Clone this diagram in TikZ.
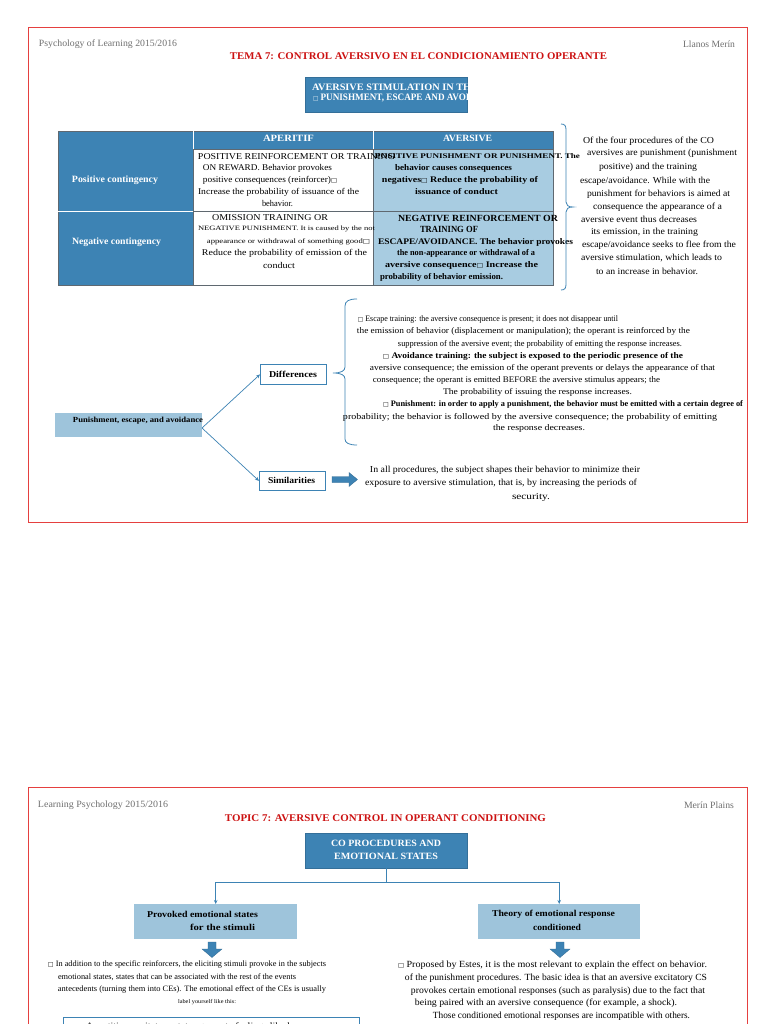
\documentclass[tikz,border=0pt]{standalone}
\usepackage{fontspec}
\usepackage{graphicx}
\setmainfont{Liberation Serif}
\newfontfamily\symf{DejaVu Sans}
\usetikzlibrary{arrows.meta}
\definecolor{stb}{HTML}{3D83B4}
\definecolor{lbl}{HTML}{A8CCE1}
\definecolor{lbx}{HTML}{9EC4DB}
\definecolor{frm}{HTML}{E5403F}
\definecolor{ttlred}{HTML}{CC1111}
\definecolor{hgray}{HTML}{707070}
\definecolor{gridc}{HTML}{5F6870}
\newcommand\bx{{\symf\fontsize{6}{6}\selectfont\char"25A1}}
\newcommand\fsz[1]{\fontsize{#1}{#1}\selectfont}
% line of text stretched horizontally between x1 and x2, centred at height y
\newcommand\Lw[6][]{\node[tx,#1] (#2) at ({(#3+#4)/2},#5) {\resizebox{\dimexpr #4pt-#3pt\relax}{\height}{#6}};}
\begin{document}
\begin{tikzpicture}[x=1pt,y=-1pt,
  tx/.style={inner sep=0pt, font=\fsz{8.8}, anchor=center, text=black},
  bld/.style={font=\fsz{8.6}\bfseries},
  hdr/.style={font=\fsz{9.6}, text=hgray},
  ttl/.style={font=\fsz{10.3}\bfseries, text=ttlred},
  wht/.style={text=white, font=\fsz{9.6}\bfseries},
  conn/.style={draw=stb, line width=0.7pt},
  arr/.style={conn, -{Stealth[length=4pt,width=3.5pt]}},
  brc/.style={draw=stb, line width=0.8pt},
  blk/.style={fill=stb, draw=stb!80!black, line width=0.3pt},
  smallbox/.style={draw=stb, line width=0.8pt, fill=white, inner sep=0pt}
]
\useasboundingbox (0,0) rectangle (768,1024);
\fill[white] (0,0) rectangle (768,1024);

% ---------- page 1 ----------
\draw[frm, line width=1pt] (28,28) rectangle (747,522);
\Lw[hdr]{h1}{39}{177}{44}{Psychology of Learning 2015/2016}
\Lw[hdr]{h2}{683}{735}{44}{Llanos Merín}
\Lw[ttl]{t1}{230}{607}{56}{TEMA 7: CONTROL AVERSIVO EN EL CONDICIONAMIENTO OPERANTE}

\node[fill=stb, draw=stb!85!black, line width=0.4pt, minimum width=162, minimum height=35, anchor=north west, inner sep=0pt] (topbox) at (305,77) {};
\begin{scope}
\clip (topbox.north west) rectangle (topbox.south east);
\Lw[text=white, font=\fsz{9.8}\bfseries]{tb1}{312}{478}{87}{AVERSIVE STIMULATION IN THE}
\Lw[text=white, font=\fsz{9.8}\bfseries]{tb2}{313}{502}{98.5}{\bx{} PUNISHMENT, ESCAPE AND AVOIDANCE}
\end{scope}

% table
\fill[stb] (58,131) rectangle (553,149);
\fill[stb] (58,149) rectangle (193,285);
\fill[lbl] (373,149) rectangle (553,285);
\draw[gridc, line width=0.4pt] (58,131) rectangle (553,285);
\draw[gridc, line width=0.4pt] (193,149) -- (193,285) (373,149) -- (373,285) (193,211) -- (553,211) (193,149) -- (553,149);
\draw[white, line width=0.5pt] (193,131) -- (193,149) (373,131) -- (373,149) (58,211) -- (193,211);
\Lw[wht]{th1}{263}{314}{138}{APERITIF}
\Lw[wht]{th2}{443}{492}{138}{AVERSIVE}
\Lw[wht]{tr1}{72}{158}{180}{Positive contingency}
\Lw[wht]{tr2}{72}{161}{242}{Negative contingency}

\Lw[font=\fsz{9}]{a1}{198}{395}{157}{POSITIVE REINFORCEMENT OR TRAINING}
\Lw{a2}{203}{332}{168}{ON REWARD. Behavior provokes}
\Lw{a3}{203}{337}{180}{positive consequences (reinforcer)\bx}
\Lw{a4}{198}{359}{192}{Increase the probability of issuance of the}
\Lw{a5}{262}{293}{203.5}{behavior.}

\Lw[font=\fsz{7.2}\bfseries]{b1}{375}{580}{156}{POSITIVE PUNISHMENT OR PUNISHMENT. The}
\Lw[bld]{b2}{395}{512}{168}{behavior causes consequences}
\Lw[bld]{b3}{382}{538}{180}{negatives\bx{} Reduce the probability of}
\Lw[bld]{b4}{415}{498}{192}{issuance of conduct}

\Lw[font=\fsz{9}]{c1}{212}{328}{218}{OMISSION TRAINING OR}
\Lw[font=\fsz{6.6}]{c2}{198}{375}{229}{NEGATIVE PUNISHMENT. It is caused by the not}
\Lw[font=\fsz{6.8}]{c3}{207}{370}{242}{appearance or withdrawal of something good\bx}
\Lw{c4}{202}{367}{253.5}{Reduce the probability of emission of the}
\Lw{c5}{263}{295}{265}{conduct}

\Lw[font=\fsz{9.4}\bfseries]{d1}{398}{558}{218}{NEGATIVE REINFORCEMENT OR}
\Lw[font=\fsz{9.4}\bfseries]{d2}{420}{478}{229.5}{TRAINING OF}
\Lw[bld]{d3}{378}{573}{242}{ESCAPE/AVOIDANCE. The behavior provokes}
\Lw[bld]{d4}{397}{535}{253.5}{the non-appearance or withdrawal of a}
\Lw[bld]{d5}{385}{538}{265.5}{aversive consequence\bx{} Increase the}
\Lw[bld]{d6}{380}{503}{277}{probability of behavior emission.}

% right brace
\draw[brc] (561,124) .. controls (565,124) and (566,126) .. (566,130) -- (566,202)
  .. controls (566,205) and (568,207) .. (573,207)
  .. controls (568,207) and (566,209) .. (566,212) -- (566,284)
  .. controls (566,288) and (565,290) .. (561,290);

\Lw[font=\fsz{9.2}]{p1}{583}{714}{141}{Of the four procedures of the CO}
\Lw[font=\fsz{9.2}]{p2}{587}{737}{153.5}{aversives are punishment (punishment}
\Lw[font=\fsz{9.2}]{p3}{599}{697}{167}{positive) and the training}
\Lw[font=\fsz{9.2}]{p4}{580}{710}{181}{escape/avoidance. While with the}
\Lw[font=\fsz{9.2}]{p5}{587}{730}{194}{punishment for behaviors is aimed at}
\Lw[font=\fsz{9.2}]{p6}{593}{722}{207}{consequence the appearance of a}
\Lw[font=\fsz{9.2}]{p7}{581}{697}{219.5}{aversive event thus decreases}
\Lw[font=\fsz{9.2}]{p8}{591}{698}{232.5}{its emission, in the training}
\Lw[font=\fsz{9.2}]{p9}{582}{736}{245.5}{escape/avoidance seeks to flee from the}
\Lw[font=\fsz{9.2}]{p10}{581}{722}{258}{aversive stimulation, which leads to}
\Lw[font=\fsz{9.2}]{p11}{596}{698}{271}{to an increase in behavior.}

% left diagram
\node[fill=lbx, minimum width=147, minimum height=24, anchor=north west, inner sep=0pt] (pea) at (55,413) {};
\Lw[font=\fsz{7.8}\bfseries]{pet}{73}{203}{421}{Punishment, escape, and avoidance}
\node[smallbox, minimum width=66, minimum height=20, anchor=north west] (dif) at (260,364) {};
\Lw[font=\fsz{9}\bfseries]{dift}{269}{317}{374}{Differences}
\node[smallbox, minimum width=66, minimum height=19, anchor=north west] (sim) at (259,471) {};
\Lw[font=\fsz{9}\bfseries]{simt}{268}{315}{480}{Similarities}
\coordinate (fork) at (202,428);
\draw[arr] (fork) -- (dif.west);
\draw[arr] (fork) -- (sim.west);

% block arrow right of Similarities
\filldraw[blk] (332,476.5) -- (349,476.5) -- (349,472.5) -- (357.5,479.5) -- (349,486.5) -- (349,482.5) -- (332,482.5) -- cycle;

% left brace
\draw[brc] (357,299) .. controls (349,299) and (345,301) .. (345,306) -- (345,367)
  .. controls (345,371) and (341,373) .. (333,373)
  .. controls (341,373) and (345,375) .. (345,379) -- (345,439)
  .. controls (345,443) and (349,445) .. (357,445);

\Lw[font=\fsz{8.4}]{e1}{358}{618}{319}{\bx{} Escape training: the aversive consequence is present; it does not disappear until}
\Lw[font=\fsz{8.6}]{e2}{357}{690}{331}{the emission of behavior (displacement or manipulation); the operant is reinforced by the}
\Lw[font=\fsz{8.6}]{e3}{398}{682}{344}{suppression of the aversive event; the probability of emitting the response increases.}
\Lw[font=\fsz{8.6}\bfseries]{e4}{383}{683}{356}{\bx{} Avoidance training: the subject is exposed to the periodic presence of the}
\Lw[font=\fsz{8.6}]{e5}{370}{715}{368}{aversive consequence; the emission of the operant prevents or delays the appearance of that}
\Lw[font=\fsz{8.6}]{e6}{373}{660}{380}{consequence; the operant is emitted BEFORE the aversive stimulus appears; the}
\Lw[font=\fsz{8.6}]{e7}{443}{632}{392}{The probability of issuing the response increases.}
\Lw[font=\fsz{8.3}\bfseries]{e8}{383}{743}{404.5}{\bx{} Punishment: in order to apply a punishment, the behavior must be emitted with a certain degree of}
\Lw[font=\fsz{8.6}]{e9}{343}{717}{417}{probability; the behavior is followed by the aversive consequence; the probability of emitting}
\Lw[font=\fsz{8.6}]{e10}{493}{585}{428.5}{the response decreases.}

\Lw[font=\fsz{9.2}]{s1}{370}{640}{470}{In all procedures, the subject shapes their behavior to minimize their}
\Lw[font=\fsz{9.2}]{s2}{365}{637}{483}{exposure to aversive stimulation, that is, by increasing the periods of}
\Lw[font=\fsz{9.2}]{s3}{512}{550}{497}{security.}

% ---------- page 2 ----------
\draw[frm, line width=1pt] (28,1030) -- (28,787) -- (747,787) -- (747,1030);
\Lw[hdr]{h3}{38}{168}{805}{Learning Psychology 2015/2016}
\Lw[hdr]{h4}{684}{734}{805}{Merín Plains}
\Lw[ttl]{t2}{225}{546}{818}{TOPIC 7: AVERSIVE CONTROL IN OPERANT CONDITIONING}

\node[fill=stb, draw=stb!85!black, line width=0.4pt, minimum width=162, minimum height=35, anchor=north west, inner sep=0pt] (cobox) at (305,833) {};
\Lw[wht]{co1}{331}{441}{843.5}{CO PROCEDURES AND}
\Lw[wht]{co2}{334}{438}{856}{EMOTIONAL STATES}

\node[fill=lbx, minimum width=163, minimum height=35, anchor=north west, inner sep=0pt] (prov) at (134,904) {};
\Lw[font=\fsz{9}\bfseries]{pv1}{147}{258}{914}{Provoked emotional states}
\Lw[font=\fsz{9}\bfseries]{pv2}{190}{255}{927}{for the stimuli}
\node[fill=lbx, minimum width=162, minimum height=35, anchor=north west, inner sep=0pt] (theo) at (478,904) {};
\Lw[font=\fsz{9}\bfseries]{th3}{492}{615}{914}{Theory of emotional response}
\Lw[font=\fsz{9}\bfseries]{th4}{533}{581}{927}{conditioned}

\draw[conn] (cobox.south) -- ++(0,14) coordinate (hb);
\draw[arr] (hb) -| (prov.north);
\draw[arr] (hb) -| (theo.north);

% down block arrows
\filldraw[blk] (208,942) -- (216,942) -- (216,949) -- (222,949) -- (212,957.5) -- (202,949) -- (208,949) -- cycle;
\filldraw[blk] (556,942) -- (564,942) -- (564,949) -- (570,949) -- (560,957.5) -- (550,949) -- (556,949) -- cycle;

\Lw[font=\fsz{8.2}]{l1}{48}{326}{964}{\bx{} In addition to the specific reinforcers, the eliciting stimuli provoke in the subjects}
\Lw[font=\fsz{8.2}]{l2}{58}{296}{977}{emotional states, states that can be associated with the rest of the events}
\Lw[font=\fsz{8.2}]{l3}{58}{326}{989}{antecedents (turning them into CEs). The emotional effect of the CEs is usually}
\Lw[font=\fsz{5.8}]{l4}{178}{236}{1002}{label yourself like this:}
\node[draw=stb, line width=0.8pt, minimum width=296, minimum height=30, anchor=north west, inner sep=0pt] (lbox) at (63,1017) {};
\Lw[font=\fsz{8.2}]{l5}{86}{307}{1026}{Appetitive excitatory states generate feelings like hope}

\Lw[font=\fsz{9.4}]{r1}{398}{707}{965}{\bx{} Proposed by Estes, it is the most relevant to explain the effect on behavior.}
\Lw[font=\fsz{9.4}]{r2}{405}{707}{978}{of the punishment procedures. The basic idea is that an aversive excitatory CS}
\Lw[font=\fsz{9.4}]{r3}{411}{705}{991}{provokes certain emotional responses (such as paralysis) due to the fact that}
\Lw[font=\fsz{9.4}]{r4}{415}{677}{1003.5}{being paired with an aversive consequence (for example, a shock).}
\Lw[font=\fsz{9.4}]{r5}{433}{690}{1016.5}{Those conditioned emotional responses are incompatible with others.}
\end{tikzpicture}
\end{document}
